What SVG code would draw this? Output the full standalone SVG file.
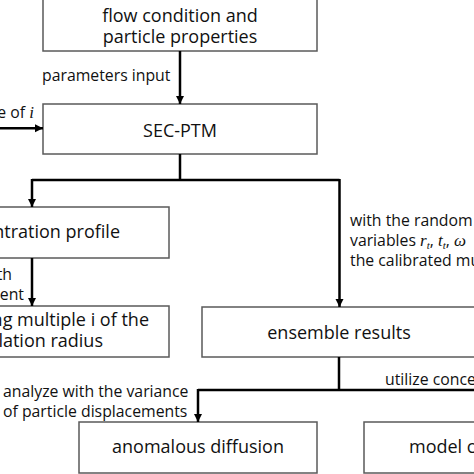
<svg xmlns="http://www.w3.org/2000/svg" width="474" height="474" viewBox="0 0 474 474">
<defs>
<style>
.box{fill:#fff;stroke:#5a5a5a;stroke-width:1.5}
.bt{font-family:"Open Sans","Liberation Sans",sans-serif;font-size:18px;fill:#111;text-anchor:middle}
.lt{font-family:"Open Sans","Liberation Sans",sans-serif;font-size:15.8px;fill:#111}
.m{font-family:"Liberation Serif","DejaVu Serif",serif;font-style:italic}
.c{fill:none;stroke:#000;stroke-width:2.5}
</style>
<marker id="ah" markerUnits="userSpaceOnUse" markerWidth="9" markerHeight="9" refX="8" refY="4.5" orient="auto"><path d="M0,0.5 L8,4.5 L0,8.5 z" fill="#000"/></marker>
</defs>
<rect width="474" height="474" fill="#fff"/>
<g id="flow">
<rect class="box" x="43" y="-1" width="274" height="52"/>
<text class="bt" x="180" y="21.7">flow condition and</text>
<text class="bt" x="180" y="42.7">particle properties</text>
</g>
<g id="secptm">
<rect class="box" x="43" y="104" width="274" height="50"/>
<text class="bt" x="180" y="136.5">SEC-PTM</text>
</g>
<g id="conc">
<rect class="box" x="-105" y="207" width="274" height="51"/>
<text class="bt" x="120" y="238" style="text-anchor:end">ntration profile</text>
</g>
<g id="multi">
<rect class="box" x="-105" y="306" width="274" height="51"/>
<text class="bt" x="149" y="325.5" style="text-anchor:end">ng multiple i of the</text>
<text class="bt" x="103" y="347" style="text-anchor:end">elation radius</text>
</g>
<g id="ensemble">
<rect class="box" x="202" y="307" width="274" height="50"/>
<text class="bt" x="339" y="338.5">ensemble results</text>
</g>
<g id="anomalous">
<rect class="box" x="79" y="422" width="238" height="51"/>
<text class="bt" x="198" y="453">anomalous diffusion</text>
</g>
<g id="model">
<rect class="box" x="364" y="422" width="238" height="51"/>
<text class="bt" x="409" y="453" style="text-anchor:start">model c</text>
</g>
<g id="connectors">
<path class="c" d="M180,51 V104" marker-end="url(#ah)"/>
<path class="c" d="M0,128.3 H43" marker-end="url(#ah)"/>
<path class="c" d="M180,154 V180"/>
<path class="c" d="M32,180 H339.5"/>
<path class="c" d="M32,179 V207" marker-end="url(#ah)"/>
<path class="c" d="M339.5,179 V307" marker-end="url(#ah)"/>
<path class="c" d="M32,258 V306" marker-end="url(#ah)"/>
<path class="c" d="M339,357 V390"/>
<path class="c" d="M198,390 H476"/>
<path class="c" d="M198,389 V422" marker-end="url(#ah)"/>
</g>
<g id="labels">
<text class="lt" x="42" y="81">parameters input</text>
<text class="lt" x="34" y="118" style="text-anchor:end">e of <tspan class="m" font-size="17">i</tspan></text>
<text class="lt" x="12" y="280" style="text-anchor:end">th</text>
<text class="lt" x="24" y="300" style="text-anchor:end">ent</text>
<text class="lt" x="350" y="226">with the random</text>
<text class="lt" x="350" y="246">variables <tspan class="m" font-size="17">r</tspan><tspan class="m" font-size="11" dy="3">t</tspan><tspan dy="-3">, </tspan><tspan class="m" font-size="17">t</tspan><tspan class="m" font-size="11" dy="3">t</tspan><tspan dy="-3">, </tspan><tspan class="m" font-size="17">ω</tspan></text>
<text class="lt" x="350" y="266">the calibrated mu</text>
<text class="lt" x="3" y="397">analyze with the variance</text>
<text class="lt" x="3" y="417">of particle displacements</text>
<text class="lt" x="385" y="385">utilize conce</text>
</g>
</svg>
